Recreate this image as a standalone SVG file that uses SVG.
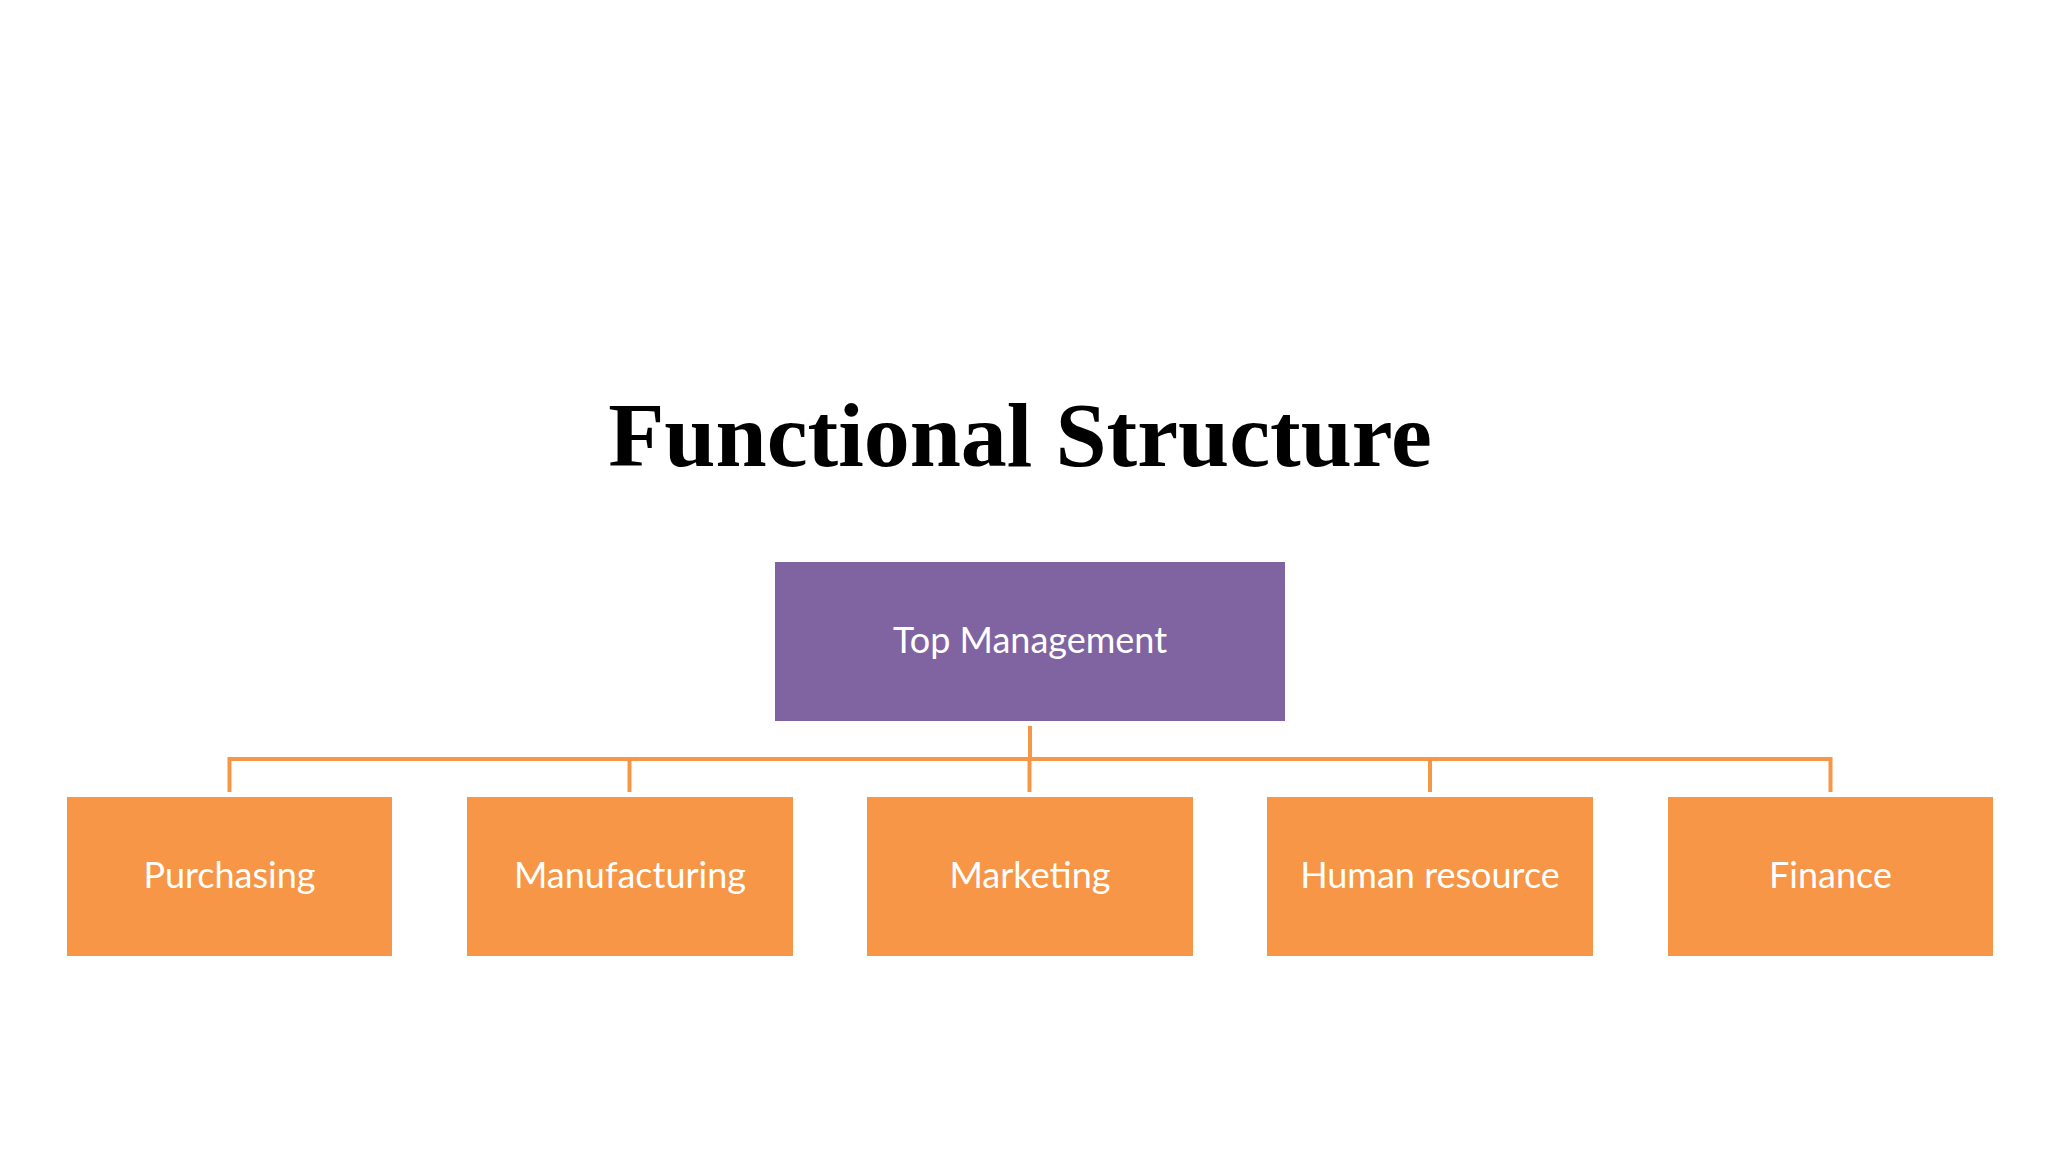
<svg xmlns="http://www.w3.org/2000/svg" width="2048" height="1152" viewBox="0 0 2048 1152">
<style>
.t{font-family:Lato,"Liberation Sans",sans-serif;font-size:36px;fill:#fff;text-anchor:middle}
.o{fill:#F79646}
.c{stroke:#F79646;stroke-width:4;fill:none}
</style>
<rect width="2048" height="1152" fill="#fff"/>
<text x="1020" y="466" font-family="'Liberation Serif',serif" font-weight="bold" font-size="92" text-anchor="middle">Functional Structure</text>
<g id="connectors">
<path class="c" d="M1030 726V759M229.5 759H1830.5M229.5 757V792M629.5 757V792M1029.5 757V792M1430 757V792M1830.5 757V792"/>
</g>
<g id="top"><rect x="775" y="562" width="510" height="159" fill="#8064A2"/><text class="t" x="1030" y="653">Top Management</text></g>
<g id="purchasing"><rect class="o" x="67" y="797" width="325" height="159"/><text class="t" x="229.5" y="888">Purchasing</text></g>
<g id="manufacturing"><rect class="o" x="467" y="797" width="326" height="159"/><text class="t" x="630" y="888">Manufacturing</text></g>
<g id="marketing"><rect class="o" x="867" y="797" width="326" height="159"/><text class="t" x="1030" y="888">Marketing</text></g>
<g id="hr"><rect class="o" x="1267" y="797" width="326" height="159"/><text class="t" x="1430" y="888">Human resource</text></g>
<g id="finance"><rect class="o" x="1668" y="797" width="325" height="159"/><text class="t" x="1830.5" y="888">Finance</text></g>
</svg>
